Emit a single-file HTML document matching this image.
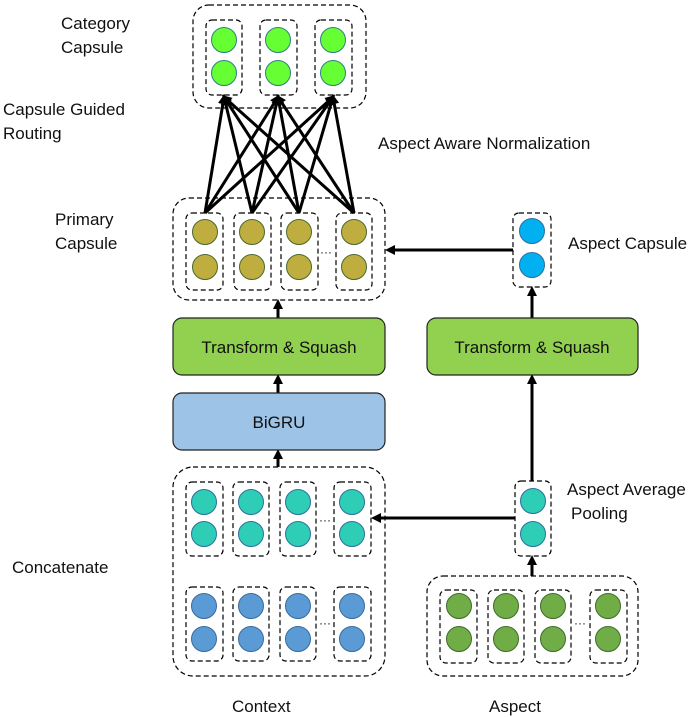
<!DOCTYPE html>
<html><head><meta charset="utf-8"><style>
html,body{margin:0;padding:0;background:#fff}
svg{display:block}
text{font-family:"Liberation Sans",sans-serif;font-size:17px;fill:#111}
</style></head><body>
<svg width="690" height="717" viewBox="0 0 690 717" xmlns="http://www.w3.org/2000/svg">
<defs>
<marker id="ah" markerWidth="10" markerHeight="10" refX="7" refY="5" orient="auto" markerUnits="userSpaceOnUse">
<path d="M0,0 L10,5 L0,10 z" fill="#000"/></marker>
</defs>
<g fill="none" stroke="#000" stroke-width="1.2" stroke-dasharray="5,3">
<rect x="193" y="5" width="173" height="103" rx="16"/>
<rect x="206" y="20" width="36" height="75" rx="6"/>
<rect x="260" y="20" width="37" height="75" rx="6"/>
<rect x="315" y="20" width="37" height="75" rx="6"/>
<rect x="173" y="198" width="212" height="102" rx="16"/>
<rect x="186" y="213" width="37" height="77" rx="6"/>
<rect x="234" y="213" width="37" height="77" rx="6"/>
<rect x="281" y="213" width="37" height="77" rx="6"/>
<rect x="336" y="213" width="36" height="77" rx="6"/>
<rect x="513" y="213" width="38" height="74" rx="6"/>
<rect x="173" y="467" width="212" height="209" rx="20"/>
<rect x="186" y="482" width="37" height="74" rx="6"/>
<rect x="233" y="482" width="36" height="74" rx="6"/>
<rect x="280" y="482" width="36" height="74" rx="6"/>
<rect x="334" y="482" width="37" height="74" rx="6"/>
<rect x="186" y="587" width="37" height="74" rx="6"/>
<rect x="233" y="587" width="36" height="74" rx="6"/>
<rect x="280" y="587" width="36" height="74" rx="6"/>
<rect x="334" y="587" width="37" height="74" rx="6"/>
<rect x="515" y="481" width="36" height="75" rx="6"/>
<rect x="427" y="576" width="211" height="100" rx="16"/>
<rect x="440" y="590" width="37" height="73" rx="6"/>
<rect x="488" y="590" width="36" height="73" rx="6"/>
<rect x="535" y="590" width="36" height="73" rx="6"/>
<rect x="590" y="590" width="37" height="73" rx="6"/>
</g>
<g stroke="#2f7f7f" stroke-width="1" fill="#66ff33">
<circle cx="224" cy="40" r="12.5"/><circle cx="224" cy="73" r="12.5"/>
<circle cx="278" cy="40" r="12.5"/><circle cx="278" cy="73" r="12.5"/>
<circle cx="333" cy="40" r="12.5"/><circle cx="333" cy="73" r="12.5"/>
</g>
<g stroke="#4a6a2a" stroke-width="1" fill="#bfae3f">
<circle cx="205" cy="232" r="12.5"/><circle cx="205" cy="267" r="12.5"/>
<circle cx="252" cy="232" r="12.5"/><circle cx="252" cy="267" r="12.5"/>
<circle cx="299" cy="232" r="12.5"/><circle cx="299" cy="267" r="12.5"/>
<circle cx="354" cy="232" r="12.5"/><circle cx="354" cy="267" r="12.5"/>
</g>
<g stroke="#2f6fa0" stroke-width="1" fill="#00b0f0">
<circle cx="532" cy="231" r="12.5"/><circle cx="532" cy="265" r="12.5"/>
</g>
<g stroke="#2f6fa0" stroke-width="1" fill="#2ecdb5">
<circle cx="204" cy="502" r="12.5"/><circle cx="204" cy="534" r="12.5"/>
<circle cx="251" cy="502" r="12.5"/><circle cx="251" cy="534" r="12.5"/>
<circle cx="298" cy="502" r="12.5"/><circle cx="298" cy="534" r="12.5"/>
<circle cx="352" cy="502" r="12.5"/><circle cx="352" cy="534" r="12.5"/>
<circle cx="533" cy="501" r="12.5"/><circle cx="533" cy="534" r="12.5"/>
</g>
<g stroke="#3a6a9a" stroke-width="1" fill="#5b9bd5">
<circle cx="204" cy="606" r="12.5"/><circle cx="204" cy="639" r="12.5"/>
<circle cx="251" cy="606" r="12.5"/><circle cx="251" cy="639" r="12.5"/>
<circle cx="298" cy="606" r="12.5"/><circle cx="298" cy="639" r="12.5"/>
<circle cx="352" cy="606" r="12.5"/><circle cx="352" cy="639" r="12.5"/>
</g>
<g stroke="#3f6a2a" stroke-width="1" fill="#70ad47">
<circle cx="459" cy="606" r="12.5"/><circle cx="459" cy="639" r="12.5"/>
<circle cx="506" cy="606" r="12.5"/><circle cx="506" cy="639" r="12.5"/>
<circle cx="553" cy="606" r="12.5"/><circle cx="553" cy="639" r="12.5"/>
<circle cx="608" cy="606" r="12.5"/><circle cx="608" cy="639" r="12.5"/>
</g>
<text x="320" y="256" style="font-size:12px">···</text>
<text x="319" y="524" style="font-size:12px">···</text>
<text x="319" y="627" style="font-size:12px">···</text>
<text x="574" y="627" style="font-size:12px">···</text>
<g stroke="#000" stroke-width="3" fill="none" marker-end="url(#ah)">
<line x1="205" y1="213" x2="224" y2="97"/><line x1="205" y1="213" x2="278" y2="97"/><line x1="205" y1="213" x2="333" y2="97"/>
<line x1="252" y1="213" x2="224" y2="97"/><line x1="252" y1="213" x2="278" y2="97"/><line x1="252" y1="213" x2="333" y2="97"/>
<line x1="299" y1="213" x2="224" y2="97"/><line x1="299" y1="213" x2="278" y2="97"/><line x1="299" y1="213" x2="333" y2="97"/>
<line x1="354" y1="213" x2="224" y2="97"/><line x1="354" y1="213" x2="278" y2="97"/><line x1="354" y1="213" x2="333" y2="97"/>
<line x1="278" y1="318" x2="278" y2="302"/>
<line x1="278" y1="393" x2="278" y2="377"/>
<line x1="278" y1="467" x2="278" y2="452"/>
<line x1="532" y1="318" x2="532" y2="289"/>
<line x1="532" y1="481" x2="532" y2="377"/>
<line x1="532" y1="576" x2="532" y2="558"/>
<line x1="513" y1="250" x2="388" y2="250"/>
<line x1="515" y1="518" x2="374" y2="518"/>
</g>
<rect x="173" y="318" width="212" height="57" rx="9" fill="#92d050" stroke="#222" stroke-width="1.2"/>
<rect x="427" y="318" width="211" height="57" rx="9" fill="#92d050" stroke="#222" stroke-width="1.2"/>
<rect x="173" y="393" width="212" height="57" rx="9" fill="#9dc3e6" stroke="#222" stroke-width="1.2"/>
<text x="279" y="353" text-anchor="middle">Transform &amp; Squash</text>
<text x="532" y="353" text-anchor="middle">Transform &amp; Squash</text>
<text x="279" y="428" text-anchor="middle">BiGRU</text>
<text x="61" y="29">Category</text>
<text x="61" y="53">Capsule</text>
<text x="3" y="115">Capsule Guided</text>
<text x="3" y="139">Routing</text>
<text x="55" y="225">Primary</text>
<text x="55" y="249">Capsule</text>
<text x="378" y="149">Aspect Aware Normalization</text>
<text x="568" y="249">Aspect Capsule</text>
<text x="567" y="495">Aspect Average</text>
<text x="571" y="519">Pooling</text>
<text x="12" y="573">Concatenate</text>
<text x="232" y="712">Context</text>
<text x="489" y="712">Aspect</text>
</svg>
</body></html>
